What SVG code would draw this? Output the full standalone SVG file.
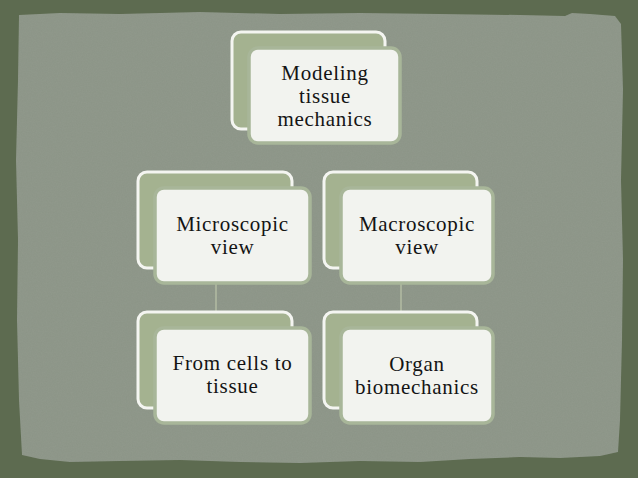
<svg xmlns="http://www.w3.org/2000/svg" width="638" height="478" viewBox="0 0 638 478">
<defs>
<style>
.back{fill:#a4b290;stroke:#f4f5f1;stroke-width:3}
.front{fill:#f2f3ef;stroke:#a8b699;stroke-width:3.5}
.t{font-family:"Liberation Serif","Times New Roman",serif;font-size:21px;letter-spacing:0.7px;fill:#141414;text-anchor:middle}
.conn{stroke:#a9b29c;stroke-width:2;fill:none}
</style>
<filter id="grain" x="0" y="0" width="100%" height="100%">
<feTurbulence type="fractalNoise" baseFrequency="0.8" numOctaves="2" seed="3" result="n"/>
<feColorMatrix in="n" type="matrix" values="0 0 0 0 0.5  0 0 0 0 0.5  0 0 0 0 0.5  0 0 0 0.08 0" result="g"/>
<feComposite in="g" in2="SourceGraphic" operator="in" result="gi"/>
<feMerge><feMergeNode in="SourceGraphic"/><feMergeNode in="gi"/></feMerge>
</filter>
</defs>
<rect x="0" y="0" width="638" height="478" fill="#5d6b50"/>
<path d="M19,15 L60,13 L120,14 L200,12 L280,14 L360,13 L440,14 L520,15 L565,16 L572,13 L590,14 L615,16 L621,24 L623,90 L621,180 L623,260 L622,340 L620,420 L618,452 L600,456 L560,458 L520,457 L470,459 L420,462 L360,461 L300,463 L240,462 L180,460 L120,461 L70,462 L40,459 L22,455 L19,400 L17,320 L18,240 L16,160 L18,80 Z" fill="#8c9587" filter="url(#grain)"/>
<g id="connectors">
<line class="conn" x1="216" y1="283" x2="216" y2="313"/>
<line class="conn" x1="401" y1="283" x2="401" y2="313"/>
</g>
<g id="node-top">
<rect class="back" x="232" y="32" width="153" height="97" rx="9"/>
<rect class="front" x="249" y="48" width="151" height="95" rx="9"/>
<text class="t" x="325" y="80">Modeling</text>
<text class="t" x="325" y="103">tissue</text>
<text class="t" x="325" y="126">mechanics</text>
</g>
<g id="node-micro">
<rect class="back" x="138" y="172" width="154" height="96" rx="9"/>
<rect class="front" x="155" y="188" width="155" height="95" rx="9"/>
<text class="t" x="232.5" y="231">Microscopic</text>
<text class="t" x="232.5" y="254">view</text>
</g>
<g id="node-macro">
<rect class="back" x="324" y="172" width="153" height="96" rx="9"/>
<rect class="front" x="341" y="188" width="152" height="95" rx="9"/>
<text class="t" x="417" y="231">Macroscopic</text>
<text class="t" x="417" y="254">view</text>
</g>
<g id="node-cells">
<rect class="back" x="138" y="312" width="154" height="96" rx="9"/>
<rect class="front" x="155" y="328" width="155" height="95" rx="9"/>
<text class="t" x="232.5" y="370">From cells to</text>
<text class="t" x="232.5" y="393">tissue</text>
</g>
<g id="node-organ">
<rect class="back" x="324" y="312" width="153" height="96" rx="9"/>
<rect class="front" x="341" y="328" width="152" height="95" rx="9"/>
<text class="t" x="417" y="371">Organ</text>
<text class="t" x="417" y="394">biomechanics</text>
</g>
</svg>
